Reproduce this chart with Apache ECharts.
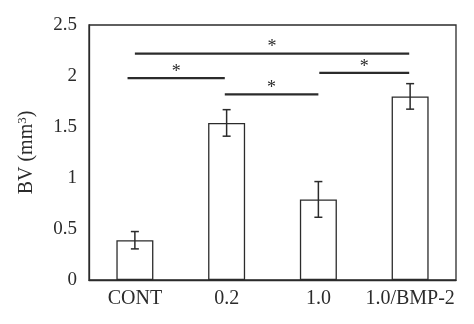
<!DOCTYPE html>
<html><head><meta charset="utf-8">
<script src="https://cdn.jsdelivr.net/npm/echarts@6/dist/echarts.min.js"></script>
<style>html,body{margin:0;padding:0;background:#fff}#c{width:474px;height:324px}</style>
</head><body><div id="c"></div>
<script>
const categories = ['CONT', '0.2', '1.0', '1.0/BMP-2'];
const bvMean = [0.39, 1.54, 0.79, 1.80];
const bvErr = [0.085, 0.13, 0.175, 0.125];
const yTicks = [0, 0.5, 1, 1.5, 2, 2.5];
// significance brackets: start/end group position, height (mm3), label
const bracketStart = [0, -0.08, 0.98, 2.01];
const bracketEnd = [2.99, 0.98, 2.0, 2.99];
const bracketLevel = [2.22, 1.98, 1.82, 2.03];
const bracketLabel = ['*', '*', '*', '*'];

const ink = '#2b2b2b';
const font = 'Liberation Serif';

const errData = bvMean.map((m, i) => [i, m - bvErr[i], m + bvErr[i]]);
const brData = bracketStart.map((s, i) => [s, bracketEnd[i], bracketLevel[i], bracketLabel[i]]);

const chart = echarts.init(document.getElementById('c'), null, {renderer: 'canvas'});
chart.setOption({
  animation: false,
  grid: {left: 89, right: 18, top: 25, bottom: 44, show: true, borderColor: ink, borderWidth: 1.3, backgroundColor: 'transparent'},
  xAxis: [{
    type: 'category', data: categories, boundaryGap: true,
    axisLine: {onZero: false, lineStyle: {color: ink, width: 1.3}},
    axisTick: {show: false},
    axisLabel: {color: ink, fontFamily: font, fontSize: 20, margin: 9, interval: 0}
  }, {
    type: 'value', min: -0.5, max: 3.5, show: false
  }],
  yAxis: {
    type: 'value', min: 0, max: 2.5, interval: 0.5,
    name: 'BV (mm{s|3})', nameLocation: 'middle', nameGap: 52, nameRotate: 90,
    nameTextStyle: {color: ink, fontFamily: font, fontSize: 20, rich: {s: {fontFamily: font, fontSize: 13, verticalAlign: 'top', color: ink, padding: [0, 0, 8, 0]}}},
    axisLine: {show: true, onZero: false, lineStyle: {color: ink, width: 1.3}},
    axisTick: {show: false},
    splitLine: {show: false},
    axisLabel: {color: ink, fontFamily: font, fontSize: 19, margin: 12,
      formatter: v => yTicks.includes(v) ? String(v) : ''}
  },
  series: [{
    type: 'bar', data: bvMean, barWidth: 37,
    itemStyle: {color: '#fff', borderColor: ink, borderWidth: 1.3}
  }, {
    type: 'custom', data: errData, z: 5,
    renderItem: (params, api) => {
      const x = api.coord([api.value(0), 0])[0];
      const lo = api.coord([api.value(0), api.value(1)])[1];
      const hi = api.coord([api.value(0), api.value(2)])[1];
      const w = 4;
      const st = {stroke: ink, lineWidth: 1.5};
      return {type: 'group', children: [
        {type: 'line', shape: {x1: x, y1: lo, x2: x, y2: hi}, style: st},
        {type: 'line', shape: {x1: x - w, y1: lo, x2: x + w, y2: lo}, style: st},
        {type: 'line', shape: {x1: x - w, y1: hi, x2: x + w, y2: hi}, style: st}
      ]};
    }
  }, {
    type: 'custom', data: brData, xAxisIndex: 1, z: 5,
    encode: {x: [0, 1], y: 2},
    renderItem: (params, api) => {
      const p1 = api.coord([api.value(0), api.value(2)]);
      const p2 = api.coord([api.value(1), api.value(2)]);
      return {type: 'group', children: [
        {type: 'line', shape: {x1: p1[0], y1: p1[1], x2: p2[0], y2: p2[1]}, style: {stroke: ink, lineWidth: 2.2}},
        {type: 'text', x: (p1[0] + p2[0]) / 2, y: p1[1] - 6,
          style: {text: brData[params.dataIndex][3], fill: ink, font: '18px "Liberation Serif"', align: 'center', verticalAlign: 'middle'}}
      ]};
    }
  }]
});
</script></body></html>
